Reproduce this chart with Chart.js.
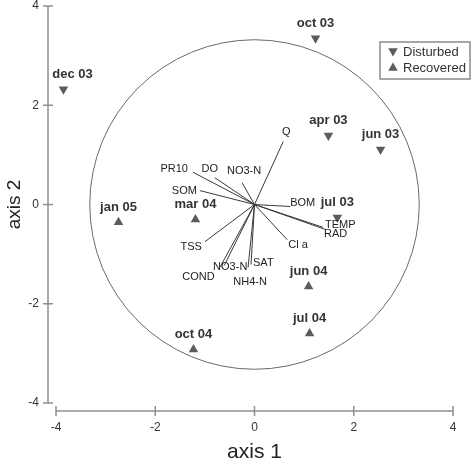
<!DOCTYPE html>
<html>
<head>
<meta charset="utf-8">
<script src="https://cdn.jsdelivr.net/npm/chart.js@4/dist/chart.umd.min.js"></script>
<style>
  html, body { margin: 0; padding: 0; background: #fff; }
  #wrap { width: 474px; height: 475px; }
</style>
</head>
<body>
<div id="wrap"><canvas id="c" width="474" height="475"></canvas></div>
<script>
// ---- data ----
const disturbedLabels = ["oct 03", "dec 03", "apr 03", "jun 03", "jul 03"];
const disturbedX = [1.23, -3.85, 1.49, 2.54, 1.67];
const disturbedY = [3.35, 2.32, 1.39, 1.11, -0.26];

const recoveredLabels = ["jan 05", "mar 04", "oct 04", "jun 04", "jul 04"];
const recoveredX = [-2.74, -1.19, -1.23, 1.09, 1.11];
const recoveredY = [-0.36, -0.30, -2.92, -1.65, -2.60];

const vectorNames = ["Q", "PR10", "DO", "NO3-N", "SOM", "BOM", "TEMP", "RAD", "Cl a", "TSS", "COND", "NO3-N", "SAT", "NH4-N"];
const vectorX = [0.58, -1.24, -0.80, -0.25, -1.10, 0.72, 1.38, 1.42, 0.66, -1.00, -0.70, -0.61, -0.07, -0.13];
const vectorY = [1.27, 0.65, 0.54, 0.44, 0.28, -0.04, -0.46, -0.50, -0.71, -0.75, -1.27, -1.23, -1.21, -1.27];

const circleRadius = 3.32;
const axisTicks = [-4, -2, 0, 2, 4];
const axisTitles = ["axis 1", "axis 2"];
const seriesNames = ["Disturbed", "Recovered"];

// ---- style (label placement in pixels) ----
const vectorLabelStyle = [
  {align: "center", dx: 3, dy: -10},
  {align: "right", dx: -5, dy: -3},
  {align: "center", dx: -5, dy: -9},
  {align: "center", dx: 2, dy: -12},
  {align: "right", dx: -3, dy: 0},
  {align: "left", dx: 0, dy: -4},
  {align: "left", dx: 2, dy: -2},
  {align: "left", dx: -1, dy: 5},
  {align: "left", dx: 1, dy: 5},
  {align: "right", dx: -3, dy: 5},
  {align: "right", dx: -5, dy: 9},
  {align: "center", dx: 6, dy: 1},
  {align: "left", dx: 2, dy: -2},
  {align: "center", dx: 2, dy: 14}
];
const disturbedLabelDx = [0, 9, 0, 0, 0];
const recoveredLabelDx = [0, 0, 0, 0, 0];

const FONT = "Arial, 'Liberation Sans', Helvetica, sans-serif";
const markerColor = "#5c5c5c";
const axisColor = "#8f8f8f";
const AXIS_GAP = 8;

// ---- datasets ----
const datasets = [];
vectorNames.forEach((n, i) => {
  datasets.push({
    type: "line",
    label: n,
    data: [{x: 0, y: 0}, {x: vectorX[i], y: vectorY[i]}],
    borderColor: "#3a3a3a",
    borderWidth: 1,
    pointRadius: 0,
    showLine: true,
    fill: false,
    tension: 0,
    order: 2
  });
});
datasets.push({
  type: "scatter",
  label: seriesNames[0],
  isSample: true,
  sampleLabels: disturbedLabels,
  labelDx: disturbedLabelDx,
  data: disturbedX.map((x, i) => ({x, y: disturbedY[i]})),
  pointStyle: "triangle",
  rotation: 180,
  pointRadius: 5.5,
  backgroundColor: markerColor,
  borderColor: markerColor,
  borderWidth: 0,
  order: 1
});
datasets.push({
  type: "scatter",
  label: seriesNames[1],
  isSample: true,
  sampleLabels: recoveredLabels,
  labelDx: recoveredLabelDx,
  data: recoveredX.map((x, i) => ({x, y: recoveredY[i]})),
  pointStyle: "triangle",
  rotation: 0,
  pointRadius: 5.5,
  backgroundColor: markerColor,
  borderColor: markerColor,
  borderWidth: 0,
  order: 1
});

// ---- plugins ----
const decorPlugin = {
  id: "decor",
  beforeDatasetsDraw(chart) {
    const {ctx} = chart;
    const xs = chart.scales.x, ys = chart.scales.y;
    const x0 = xs.getPixelForValue(0), y0 = ys.getPixelForValue(0);
    const r = xs.getPixelForValue(circleRadius) - x0;
    ctx.save();
    ctx.beginPath();
    ctx.arc(x0, y0, r, 0, Math.PI * 2);
    ctx.strokeStyle = "#6a6a6a";
    ctx.lineWidth = 1;
    ctx.stroke();
    ctx.restore();
  },
  afterDatasetsDraw(chart) {
    const {ctx, chartArea} = chart;
    const xs = chart.scales.x, ys = chart.scales.y;
    ctx.save();
    // vector labels
    ctx.font = "11px " + FONT;
    ctx.fillStyle = "#222";
    ctx.textBaseline = "middle";
    vectorNames.forEach((n, i) => {
      const st = vectorLabelStyle[i];
      const px = xs.getPixelForValue(vectorX[i]) + st.dx;
      const py = ys.getPixelForValue(vectorY[i]) + st.dy;
      ctx.textAlign = st.align;
      ctx.fillText(n, px, py);
    });
    // sample labels
    ctx.font = "bold 13px " + FONT;
    ctx.fillStyle = "#333";
    ctx.textAlign = "center";
    chart.data.datasets.forEach((ds, di) => {
      if (!ds.isSample) return;
      const meta = chart.getDatasetMeta(di);
      meta.data.forEach((el, i) => {
        ctx.fillText(ds.sampleLabels[i], el.x + ds.labelDx[i], el.y - 15);
      });
    });
    // offset axes
    ctx.strokeStyle = axisColor;
    ctx.lineWidth = 1.5;
    const ax = chartArea.left - AXIS_GAP;
    const ay = chartArea.bottom + AXIS_GAP;
    ctx.beginPath();
    ctx.moveTo(ax, ys.getPixelForValue(axisTicks[axisTicks.length - 1]));
    ctx.lineTo(ax, ys.getPixelForValue(axisTicks[0]));
    axisTicks.forEach(v => {
      const p = ys.getPixelForValue(v);
      ctx.moveTo(ax - 5, p); ctx.lineTo(ax + 5, p);
    });
    ctx.moveTo(xs.getPixelForValue(axisTicks[0]), ay);
    ctx.lineTo(xs.getPixelForValue(axisTicks[axisTicks.length - 1]), ay);
    axisTicks.forEach(v => {
      const p = xs.getPixelForValue(v);
      ctx.moveTo(p, ay - 5); ctx.lineTo(p, ay + 5);
    });
    ctx.stroke();
    // legend
    const lx = chartArea.right - 73, ly = chartArea.top + 36, lw = 90, lh = 37;
    ctx.strokeStyle = "#8a8a8a";
    ctx.lineWidth = 1.5;
    ctx.strokeRect(lx, ly, lw, lh);
    ctx.font = "13px " + FONT;
    ctx.textAlign = "left";
    ctx.textBaseline = "middle";
    const sampleSets = chart.data.datasets.filter(d => d.isSample);
    sampleSets.forEach((ds, k) => {
      const cy = ly + 10 + k * 16;
      ctx.fillStyle = markerColor;
      ctx.strokeStyle = markerColor;
      Chart.helpers.drawPoint(ctx, {
        pointStyle: "triangle", rotation: ds.rotation, radius: 5.5,
        borderWidth: 0
      }, lx + 13, cy + (ds.rotation ? -1 : 0));
      ctx.fillStyle = "#333";
      ctx.fillText(ds.label, lx + 23, cy);
    });
    ctx.restore();
  }
};

new Chart(document.getElementById("c"), {
  data: {datasets},
  options: {
    responsive: false,
    animation: false,
    devicePixelRatio: 1,
    layout: {padding: {top: 6, right: 21, left: 0, bottom: 0}},
    plugins: {legend: {display: false}, tooltip: {enabled: false}},
    scales: {
      x: {
        type: "linear", position: "bottom", min: -4, max: 4,
        afterBuildTicks: s => { s.ticks = axisTicks.map(v => ({value: v})); },
        afterFit: s => { s.height = 72; s.paddingLeft = 0; s.paddingRight = 0; },
        grid: {display: false, drawTicks: false},
        border: {display: false},
        ticks: {padding: 17, color: "#333", font: {size: 12, family: FONT}},
        title: {display: true, text: axisTitles[0], color: "#222",
                font: {size: 21, family: FONT}, padding: {top: 0, bottom: 10}}
      },
      y: {
        type: "linear", position: "left", min: -4, max: 4,
        afterBuildTicks: s => { s.ticks = axisTicks.map(v => ({value: v})); },
        afterFit: s => { s.width = 56; s.paddingTop = 0; s.paddingBottom = 0; },
        grid: {display: false, drawTicks: false},
        border: {display: false},
        ticks: {padding: 17, color: "#333", font: {size: 12, family: FONT}},
        title: {display: true, text: axisTitles[1], color: "#222",
                font: {size: 19, family: FONT}, padding: {top: 3, bottom: 0}}
      }
    }
  },
  plugins: [decorPlugin]
});
</script>
</body>
</html>
